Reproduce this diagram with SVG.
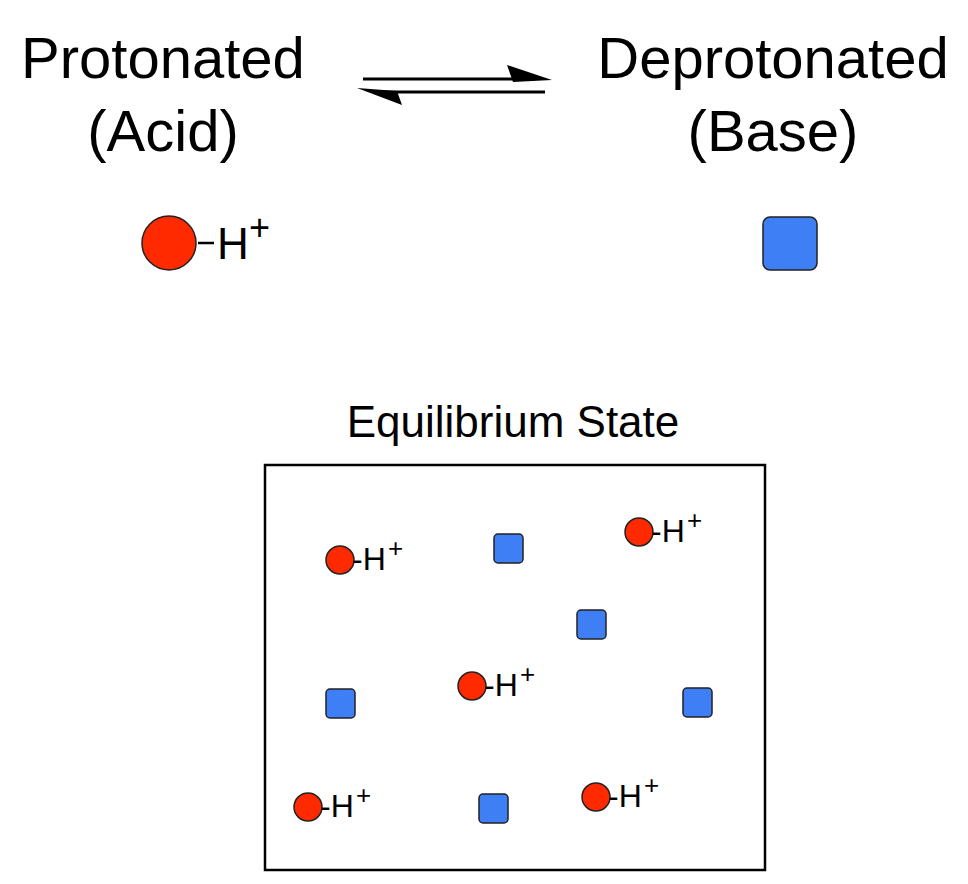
<svg xmlns="http://www.w3.org/2000/svg" width="968" height="884" viewBox="0 0 968 884">
<style>
text{font-family:"Liberation Sans",Arial,sans-serif;fill:#000}
.big{font-size:58px;text-anchor:middle}
.c{fill:#ff2a00;stroke:#222;stroke-width:1.5}
.s{fill:#3f7ff5;stroke:#222;stroke-width:1.5}
.h{font-size:32px}
.sup{font-size:26px}
</style>
<rect width="968" height="884" fill="#fff"/>
<g id="labels">
<text class="big" x="163" y="78">Protonated</text>
<text class="big" x="163" y="151">(Acid)</text>
<text class="big" x="773" y="78">Deprotonated</text>
<text class="big" x="773" y="151">(Base)</text>
</g>
<g id="connectors">
<line x1="363" y1="79" x2="535" y2="79" stroke="#000" stroke-width="3"/>
<polygon points="507,65 552,80 513,82" fill="#000"/>
<line x1="375" y1="92" x2="545" y2="92" stroke="#000" stroke-width="3"/>
<polygon points="357,88 402,105 397,91" fill="#000"/>
</g>
<g id="acid">
<circle class="c" cx="169" cy="243" r="27"/>
<line x1="198" y1="243" x2="214" y2="243" stroke="#000" stroke-width="2.5"/>
<text x="217" y="259" font-size="44">H</text>
<text x="249" y="240" font-size="36">+</text>
</g>
<g id="base"><rect class="s" x="763" y="217" width="54" height="53" rx="7"/></g>
<g id="equilibrium">
<text x="513" y="437" font-size="44" text-anchor="middle">Equilibrium State</text>
<rect x="265" y="465" width="500" height="405" fill="none" stroke="#000" stroke-width="2.5"/>
<g id="a1"><circle class="c" cx="340" cy="560" r="14"/><text class="h" x="352" y="570">-H</text><text class="sup" x="388" y="557">+</text></g>
<g id="a2"><circle class="c" cx="639" cy="532" r="14"/><text class="h" x="651" y="542">-H</text><text class="sup" x="687" y="529">+</text></g>
<g id="a3"><circle class="c" cx="472" cy="686" r="14"/><text class="h" x="484" y="696">-H</text><text class="sup" x="520" y="683">+</text></g>
<g id="a4"><circle class="c" cx="308" cy="807" r="14"/><text class="h" x="320" y="817">-H</text><text class="sup" x="356" y="804">+</text></g>
<g id="a5"><circle class="c" cx="596" cy="797" r="14"/><text class="h" x="608" y="807">-H</text><text class="sup" x="644" y="794">+</text></g>
<rect id="b1" class="s" x="494" y="534" width="29" height="29" rx="4"/>
<rect id="b2" class="s" x="577" y="610" width="29" height="29" rx="4"/>
<rect id="b3" class="s" x="326" y="689" width="29" height="29" rx="4"/>
<rect id="b4" class="s" x="683" y="688" width="29" height="29" rx="4"/>
<rect id="b5" class="s" x="479" y="794" width="29" height="29" rx="4"/>
</g>
</svg>
